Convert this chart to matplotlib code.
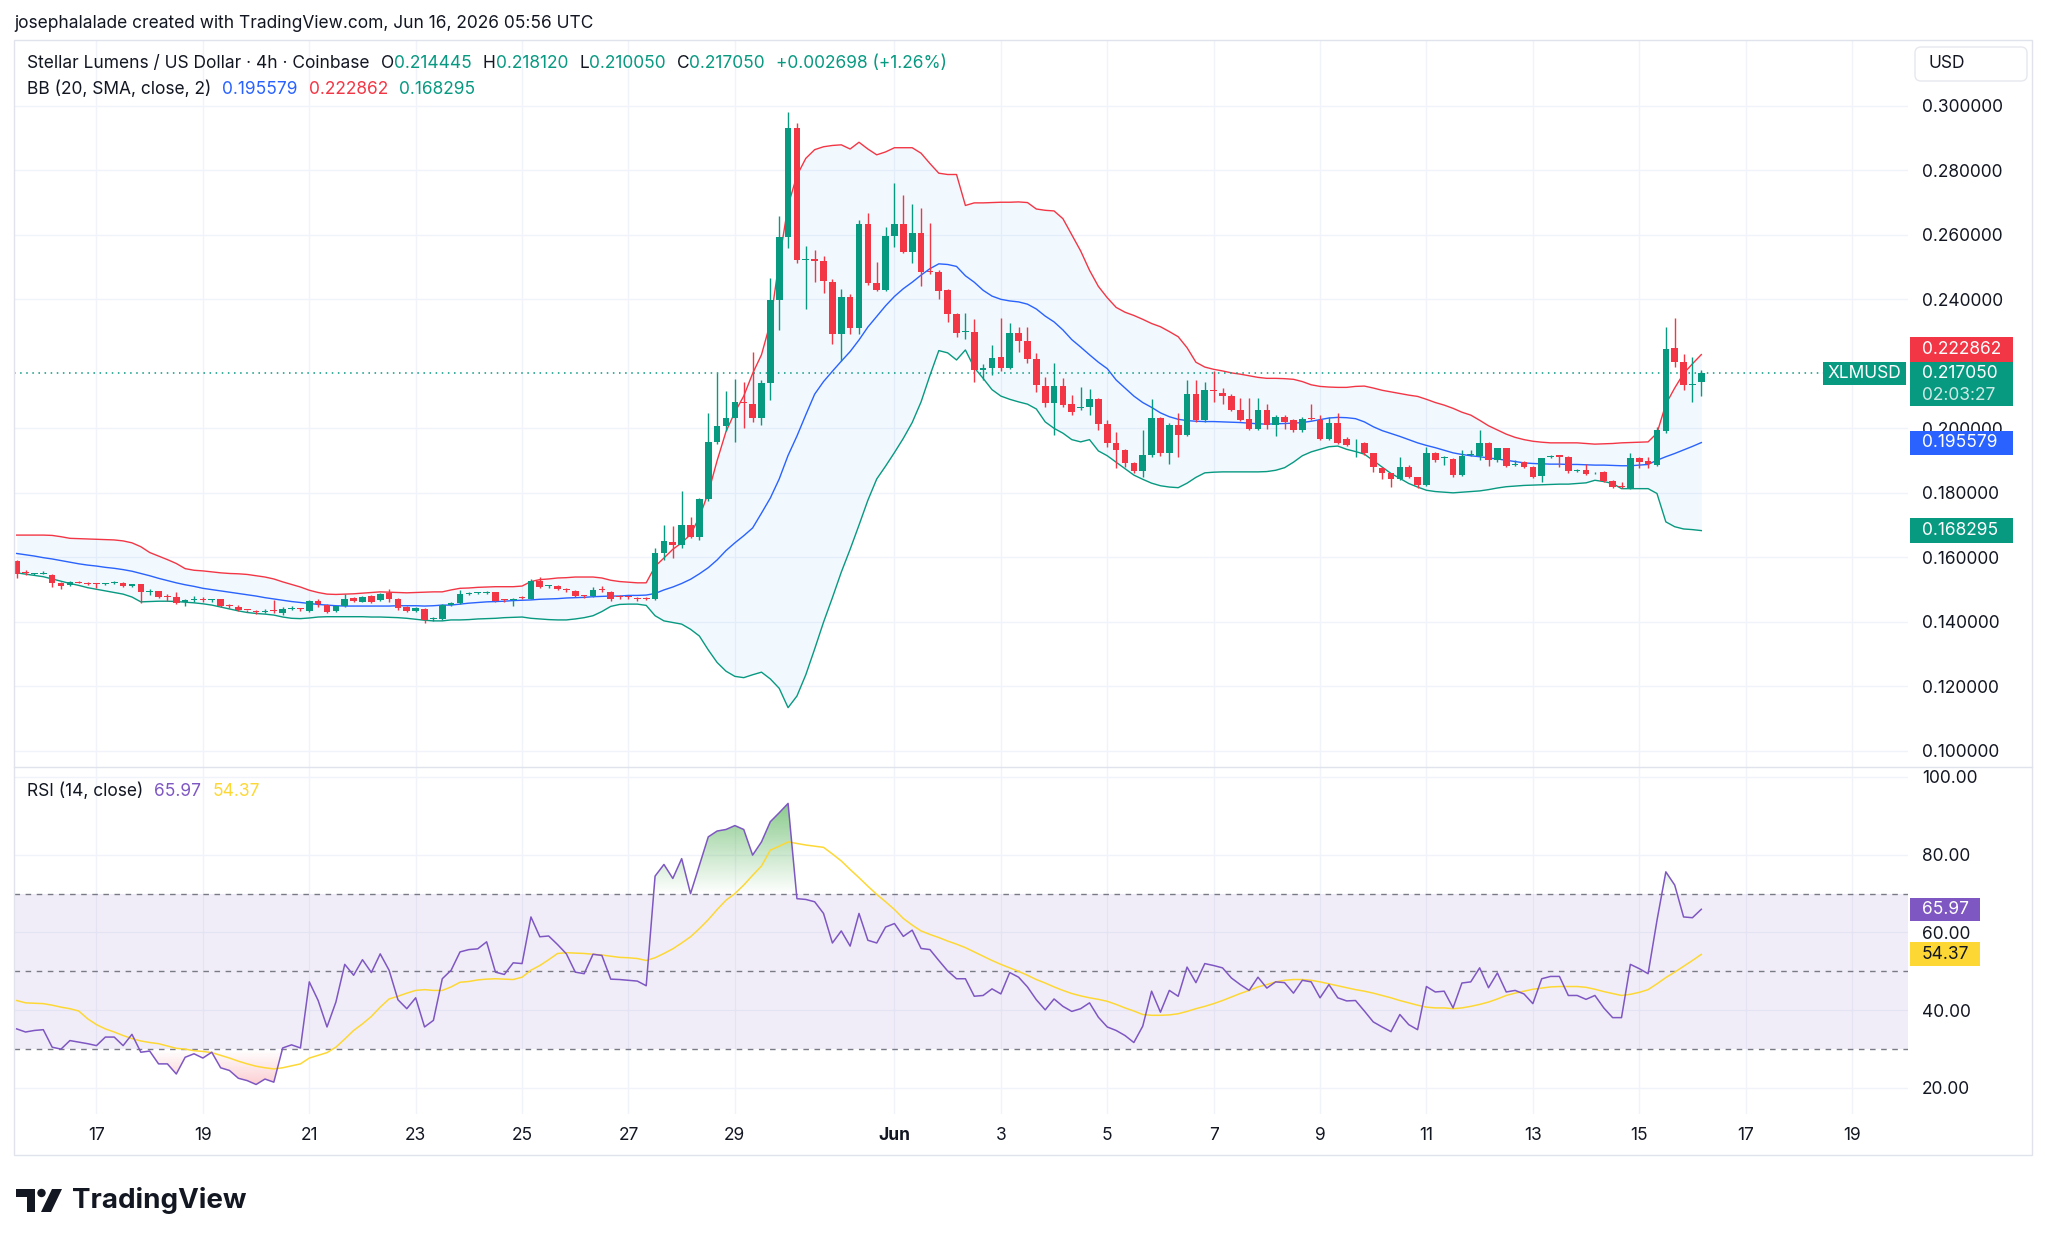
import numpy as np
import pandas as pd
import matplotlib
matplotlib.use("Agg")
import matplotlib.pyplot as plt
import matplotlib.dates as mdates
import matplotlib.colors as mcolors
from matplotlib.patches import Rectangle, FancyBboxPatch, Polygon, Circle, PathPatch
from matplotlib.path import Path
from matplotlib.transforms import blended_transform_factory, IdentityTransform
from matplotlib.lines import Line2D

plt.rcParams['font.family'] = ['Inter', 'DejaVu Sans']

# ---------------- data (4h candles, XLM/USD) ----------------
START = '2026-05-15 12:00'
OPEN = [.1589,.1553,.1547,.1549,.1545,.1522,.1514,.1524,.1520,.1518,
 .1516,.1519,.1521,.1510,.1516,.1493,.1495,.1478,.1476,.1462,
 .1469,.1471,.1469,.1470,.1450,.1446,.1438,.1433,.1431,.1434,
 .1426,.1440,.1442,.1434,.1464,.1452,.1434,.1448,.1474,.1463,
 .1479,.1467,.1488,.1471,.1446,.1434,.1441,.1409,.1408,.1452,
 .1458,.1487,.1489,.1490,.1492,.1468,.1467,.1476,.1472,.1528,
 .1510,.1512,.1501,.1495,.1480,.1479,.1500,.1492,.1477,.1477,
 .1473,.1473,.1470,.1614,.1649,.1638,.1700,.1664,.1780,.1959,
 .2006,.2033,.2080,.2075,.2033,.2141,.2397,.2592,.2932,.2522,
 .2526,.2519,.2453,.2291,.2406,.2310,.2634,.2450,.2429,.2595,
 .2632,.2548,.2605,.2487,.2486,.2429,.2353,.2300,.2300,.2181,
 .2186,.2222,.2186,.2296,.2270,.2214,.2132,.2080,.2132,.2077,
 .2062,.2067,.2090,.2013,.1955,.1932,.1894,.1868,.1917,.2031,
 .1922,.2010,.1979,.2108,.2025,.2117,.2110,.2100,.2056,.2030,
 .1999,.2056,.2010,.2034,.2027,.1994,.2031,.2025,.1968,.2015,
 .1968,.1953,.1953,.1922,.1877,.1860,.1842,.1881,.1848,.1824,
 .1922,.1908,.1905,.1855,.1917,.1914,.1955,.1901,.1938,.1886,
 .1896,.1879,.1852,.1912,.1916,.1912,.1868,.1870,.1860,.1865,
 .1836,.1819,.1814,.1907,.1898,.1886,.1992,.2248,.2206,.2134,
 .214445]
HIGH = [.1593,.1560,.1552,.1557,.1548,.1524,.1527,.1527,.1523,.1521,
 .1522,.1527,.1523,.1518,.1518,.1503,.1497,.1486,.1493,.1472,
 .1479,.1476,.1471,.1472,.1456,.1452,.1438,.1436,.1440,.1469,
 .1446,.1448,.1442,.1468,.1471,.1454,.1450,.1486,.1478,.1480,
 .1482,.1490,.1503,.1473,.1448,.1447,.1443,.1416,.1455,.1462,
 .1500,.1492,.1493,.1496,.1494,.1472,.1474,.1480,.1532,.1539,
 .1513,.1515,.1505,.1498,.1484,.1508,.1510,.1495,.1482,.1480,
 .1476,.1476,.1629,.1700,.1698,.1806,.1724,.1785,.2049,.2171,
 .2115,.2152,.2144,.2237,.2150,.2466,.2658,.2980,.2946,.2565,
 .2552,.2535,.2463,.2433,.2415,.2645,.2667,.2516,.2625,.2762,
 .2724,.2695,.2682,.2638,.2490,.2432,.2358,.2357,.2338,.2200,
 .2258,.2341,.2327,.2315,.2315,.2235,.2160,.2204,.2155,.2103,
 .2129,.2121,.2095,.2025,.1989,.1935,.1897,.1994,.2090,.2035,
 .2015,.2046,.2149,.2149,.2144,.2178,.2124,.2105,.2093,.2093,
 .2093,.2077,.2040,.2041,.2030,.2035,.2077,.2041,.2035,.2046,
 .1972,.1967,.1958,.1925,.1880,.1863,.1912,.1885,.1850,.1943,
 .1926,.1915,.1908,.1932,.1932,.1994,.1957,.1940,.1940,.1901,
 .1898,.1882,.1908,.1918,.1917,.1915,.1875,.1889,.1866,.1868,
 .1840,.1834,.1922,.1910,.1911,.2005,.2315,.2341,.2232,.2220,
 .218120]
LOW = [.1537,.1545,.1544,.1547,.1509,.1503,.1512,.1519,.1514,.1506,
 .1513,.1517,.1508,.1508,.1459,.1483,.1475,.1465,.1455,.1449,
 .1461,.1463,.1462,.1447,.1443,.1434,.1430,.1425,.1427,.1427,
 .1420,.1436,.1433,.1430,.1446,.1428,.1432,.1446,.1463,.1461,
 .1460,.1465,.1462,.1438,.1432,.1432,.1397,.1404,.1405,.1448,
 .1455,.1484,.1485,.1487,.1463,.1463,.1450,.1470,.1470,.1506,
 .1504,.1500,.1494,.1476,.1474,.1476,.1494,.1465,.1472,.1472,
 .1466,.1468,.1468,.1592,.1598,.1630,.1660,.1655,.1775,.1950,
 .1993,.1959,.2002,.2020,.2009,.2088,.2304,.2560,.2512,.2369,
 .2453,.2420,.2261,.2210,.2294,.2291,.2445,.2425,.2425,.2561,
 .2545,.2512,.2440,.2479,.2402,.2330,.2283,.2277,.2144,.2150,
 .2165,.2177,.2183,.2237,.2202,.2113,.2067,.1979,.2065,.2041,
 .2056,.2041,.1994,.1943,.1876,.1881,.1860,.1850,.1912,.1915,
 .1889,.1912,.1975,.2020,.2020,.2082,.2077,.2055,.2024,.1995,
 .1994,.1999,.1976,.1999,.1990,.1990,.2025,.1963,.1965,.1950,
 .1945,.1912,.1918,.1865,.1842,.1819,.1840,.1845,.1814,.1822,
 .1895,.1886,.1848,.1852,.1915,.1901,.1883,.1896,.1881,.1883,
 .1878,.1847,.1834,.1908,.1880,.1862,.1866,.1855,.1858,.1834,
 .1814,.1814,.1812,.1876,.1876,.1884,.1984,.2189,.2119,.2082,
 .210050]
CLOSE = [.1548,.1551,.1549,.1551,.1519,.1512,.1524,.1522,.1518,.1516,
 .1519,.1523,.1510,.1516,.1493,.1496,.1477,.1476,.1459,.1469,
 .1471,.1469,.1470,.1450,.1449,.1436,.1437,.1431,.1434,.1433,
 .1440,.1442,.1440,.1465,.1454,.1431,.1448,.1472,.1466,.1477,
 .1462,.1486,.1471,.1444,.1434,.1444,.1407,.1410,.1452,.1458,
 .1487,.1489,.1490,.1492,.1466,.1467,.1470,.1474,.1528,.1509,
 .1512,.1503,.1499,.1479,.1479,.1499,.1498,.1472,.1476,.1476,
 .1472,.1471,.1614,.1651,.1638,.1700,.1664,.1780,.1959,.2006,
 .2033,.2082,.2078,.2033,.2141,.2397,.2592,.2932,.2522,.2526,
 .2520,.2457,.2291,.2406,.2310,.2634,.2450,.2429,.2595,.2632,
 .2548,.2605,.2486,.2485,.2426,.2353,.2296,.2303,.2181,.2186,
 .2219,.2186,.2296,.2271,.2214,.2134,.2080,.2132,.2072,.2051,
 .2065,.2090,.2013,.1953,.1932,.1894,.1868,.1917,.2031,.1922,
 .2010,.1979,.2108,.2025,.2118,.2115,.2100,.2058,.2027,.1999,
 .2058,.2010,.2034,.2020,.1994,.2030,.2029,.1968,.2015,.1955,
 .1948,.1956,.1922,.1881,.1860,.1842,.1881,.1848,.1824,.1922,
 .1901,.1911,.1855,.1915,.1920,.1953,.1901,.1938,.1883,.1888,
 .1881,.1850,.1907,.1915,.1912,.1868,.1871,.1857,.1863,.1836,
 .1819,.1817,.1907,.1896,.1888,.1994,.2246,.2206,.2134,.2137,
 .217050]
BB_UPPER = [.1669,.1669,.1669,.1669,.1668,.1664,.1659,.1658,.1657,.1656,
 .1655,.1654,.1651,.1645,.1633,.1615,.1604,.1593,.1581,.1565,
 .1560,.1558,.1555,.1552,.1550,.1549,.1547,.1543,.1539,.1533,
 .1524,.1516,.1508,.1498,.1491,.1486,.1485,.1486,.1487,.1489,
 .1491,.1493,.1492,.1491,.1490,.1491,.1492,.1493,.1493,.1499,
 .1504,.1505,.1507,.1508,.1509,.1509,.1509,.1511,.1525,.1531,
 .1533,.1536,.1537,.1539,.1539,.1539,.1536,.1529,.1525,.1523,
 .1521,.1521,.1572,.1598,.1625,.1645,.1671,.1725,.1800,.1900,
 .1990,.2050,.2100,.2170,.2228,.2327,.2519,.2691,.2784,.2837,
 .2864,.2873,.2877,.2879,.2866,.2887,.2866,.2848,.2857,.2870,
 .2870,.2870,.2853,.2821,.2791,.2787,.2787,.2691,.2699,.2699,
 .2700,.2701,.2701,.2702,.2700,.2680,.2676,.2674,.2650,.2600,
 .2550,.2490,.2440,.2405,.2375,.2360,.2350,.2338,.2325,.2315,
 .2300,.2284,.2250,.2205,.2190,.2183,.2178,.2172,.2168,.2163,
 .2158,.2155,.2155,.2154,.2152,.2145,.2135,.2130,.2128,.2127,
 .2127,.2130,.2131,.2125,.2118,.2113,.2108,.2103,.2099,.2090,
 .2080,.2072,.2062,.2050,.2041,.2025,.2008,.1995,.1982,.1972,
 .1965,.1960,.1957,.1955,.1955,.1955,.1955,.1953,.1951,.1952,
 .1953,.1955,.1956,.1957,.1958,.1985,.2075,.2125,.2170,.2200,
 .222862]
BB_BASIS = [.1612,.1608,.1604,.1599,.1595,.1590,.1585,.1580,.1576,.1573,
 .1569,.1566,.1562,.1557,.1550,.1543,.1535,.1528,.1521,.1515,
 .1510,.1504,.1500,.1496,.1492,.1488,.1484,.1480,.1475,.1471,
 .1467,.1463,.1460,.1457,.1454,.1452,.1450,.1449,.1449,.1449,
 .1449,.1449,.1449,.1450,.1450,.1450,.1449,.1450,.1452,.1452,
 .1455,.1458,.1460,.1462,.1463,.1464,.1466,.1467,.1468,.1470,
 .1471,.1472,.1474,.1475,.1476,.1478,.1479,.1480,.1480,.1482,
 .1482,.1483,.1488,.1499,.1508,.1519,.1532,.1549,.1568,.1592,
 .1621,.1645,.1667,.1691,.1737,.1784,.1843,.1916,.1976,.2042,
 .2106,.2145,.2177,.2208,.2238,.2274,.2314,.2347,.2380,.2409,
 .2433,.2453,.2475,.2495,.2510,.2508,.2502,.2473,.2453,.2428,
 .2410,.2400,.2395,.2392,.2385,.2370,.2348,.2330,.2305,.2275,
 .2252,.2228,.2205,.2185,.2150,.2125,.2100,.2080,.2065,.2048,
 .2036,.2028,.2024,.2022,.2021,.2021,.2020,.2019,.2018,.2016,
 .2014,.2013,.2014,.2015,.2016,.2018,.2022,.2027,.2032,.2034,
 .2033,.2030,.2020,.2005,.1993,.1984,.1975,.1965,.1955,.1947,
 .1940,.1932,.1924,.1919,.1915,.1912,.1908,.1905,.1901,.1897,
 .1893,.1891,.1890,.1889,.1889,.1888,.1888,.1887,.1886,.1886,
 .1885,.1884,.1884,.1886,.1888,.1901,.1912,.1922,.1933,.1944,
 .195579]
BB_LOWER = [.1552,.1548,.1544,.1540,.1533,.1526,.1519,.1513,.1506,.1501,
 .1496,.1491,.1486,.1477,.1462,.1463,.1464,.1464,.1463,.1461,
 .1459,.1456,.1452,.1446,.1440,.1434,.1429,.1426,.1424,.1421,
 .1415,.1411,.1410,.1412,.1415,.1416,.1416,.1416,.1416,.1416,
 .1415,.1415,.1414,.1413,.1411,.1408,.1405,.1403,.1403,.1406,
 .1406,.1407,.1409,.1410,.1411,.1413,.1414,.1415,.1411,.1409,
 .1407,.1406,.1406,.1409,.1413,.1419,.1432,.1448,.1454,.1455,
 .1455,.1451,.1419,.1403,.1398,.1393,.1377,.1356,.1313,.1274,
 .1247,.1231,.1227,.1236,.1244,.1223,.1194,.1134,.1170,.1236,
 .1316,.1399,.1475,.1554,.1625,.1700,.1777,.1843,.1883,.1925,
 .1969,.2018,.2082,.2164,.2241,.2234,.2212,.2243,.2188,.2155,
 .2120,.2100,.2090,.2082,.2075,.2060,.2020,.2000,.1985,.1965,
 .1958,.1965,.1930,.1915,.1895,.1875,.1855,.1842,.1830,.1822,
 .1818,.1816,.1830,.1848,.1862,.1864,.1865,.1865,.1865,.1865,
 .1865,.1866,.1870,.1878,.1895,.1915,.1927,.1935,.1943,.1945,
 .1935,.1928,.1920,.1900,.1880,.1860,.1845,.1829,.1818,.1808,
 .1804,.1802,.1800,.1802,.1804,.1806,.1810,.1815,.1819,.1821,
 .1823,.1824,.1825,.1826,.1827,.1827,.1829,.1831,.1839,.1835,
 .1829,.1813,.1813,.1813,.1813,.1798,.1710,.1695,.1688,.1686,
 .168295]
RSI = [35.2,34.4,34.8,35.0,30.5,30.0,32.2,31.8,31.4,30.9,
 33.1,33.1,30.9,33.8,29.2,29.5,26.2,26.2,23.6,27.9,
 28.8,27.7,29.2,25.2,24.5,22.5,21.9,20.9,22.3,21.5,
 30.3,31.1,30.3,47.3,42.5,35.7,42.1,51.8,49.0,53.0,
 49.7,54.5,50.3,42.7,40.4,43.2,35.7,37.4,48.1,50.3,
 55.0,55.6,55.8,57.6,49.8,49.2,52.2,52.0,64.0,58.9,
 59.1,56.9,54.5,49.8,49.4,54.4,54.1,48.0,47.9,47.7,
 47.5,46.3,74.5,77.5,73.9,79.0,70.0,77.3,84.6,86.1,
 86.5,87.5,86.5,79.9,83.3,88.5,90.8,93.2,68.7,68.5,
 67.9,64.9,57.3,60.4,56.5,64.9,58.0,57.3,61.4,62.3,
 59.0,60.6,55.9,55.6,52.8,50.1,48.1,48.1,43.6,43.8,
 45.5,44.2,49.7,48.5,46.0,42.7,40.1,42.9,41.0,39.7,
 40.4,41.9,38.2,35.7,34.8,33.5,31.7,35.9,44.9,39.5,
 45.1,43.6,51.1,47.1,52.0,51.5,50.9,48.3,46.6,45.1,
 48.5,45.7,47.3,47.1,44.4,47.7,47.3,43.2,46.6,43.2,
 42.4,42.5,39.8,37.0,35.7,34.5,38.9,36.3,35.0,46.1,
 44.7,44.9,40.6,47.0,47.3,50.9,45.8,49.6,44.7,45.1,
 44.2,41.7,48.1,48.7,48.7,43.8,43.8,42.8,43.8,40.6,
 38.1,38.1,51.8,50.7,49.4,63.1,75.6,72.2,64.0,63.8,
 65.97]
RSI_MA = [42.5,41.9,41.8,41.7,41.3,40.8,40.4,39.8,37.8,36.3,
 35.2,34.4,33.5,32.7,32.1,31.7,31.4,30.8,30.2,30.0,
 29.6,29.4,29.1,28.4,27.7,26.9,26.2,25.6,25.2,24.9,
 25.2,25.7,26.2,27.7,28.4,29.1,30.5,32.6,34.8,36.5,
 38.4,40.8,42.9,43.6,44.4,45.1,45.3,45.1,45.1,46.0,
 47.2,47.4,47.8,48.0,48.1,48.0,47.9,48.5,50.3,51.5,
 53.0,54.6,54.8,54.7,54.6,54.4,54.2,53.9,53.6,53.5,
 53.3,52.8,53.5,54.6,55.8,57.3,58.9,61.0,63.3,65.9,
 68.3,70.0,72.2,74.7,77.1,81.2,82.2,83.3,82.9,82.5,
 82.2,81.9,80.2,78.4,76.2,74.1,71.9,69.8,67.9,65.9,
 63.6,61.9,60.4,59.5,58.7,57.8,57.0,56.1,55.0,53.9,
 52.8,51.8,50.9,50.0,49.0,47.9,47.0,46.0,45.1,44.3,
 43.7,43.2,42.8,42.3,41.5,40.6,39.8,38.9,38.7,38.7,
 38.8,39.1,39.7,40.4,41.0,41.7,42.5,43.4,44.3,45.1,
 46.0,46.6,47.3,47.7,47.9,47.9,47.7,47.3,46.8,46.3,
 45.8,45.3,44.9,44.4,43.8,43.2,42.5,41.9,41.3,40.8,
 40.6,40.6,40.4,40.6,41.0,41.5,42.1,42.9,43.8,44.4,
 44.9,45.4,45.7,46.0,46.1,46.1,46.1,45.9,45.4,44.8,
 44.3,43.8,44.1,44.6,45.3,46.8,48.4,49.8,51.3,52.8,
 54.37]

CHANGE = 0.002698
CHANGE_PCT = 1.26
COUNTDOWN = '02:03:27'

PRICE_TICKS = [0.10, 0.12, 0.14, 0.16, 0.18, 0.20, 0.24, 0.26, 0.28, 0.30]
RSI_TICKS = [20, 40, 60, 80, 100]
DATE_TICKS = ['2026-05-17', '2026-05-19', '2026-05-21', '2026-05-23', '2026-05-25',
              '2026-05-27', '2026-05-29', '2026-06-01', '2026-06-03', '2026-06-05',
              '2026-06-07', '2026-06-09', '2026-06-11', '2026-06-13', '2026-06-15',
              '2026-06-17', '2026-06-19']
DATE_LABELS = ['17', '19', '21', '23', '25', '27', '29', 'Jun', '3', '5', '7', '9',
               '11', '13', '15', '17', '19']

# ---------------- styling ----------------
GREEN = '#089981'
RED = '#F23645'
BLUE = '#2962FF'
PURPLE = '#7E57C2'
YELLOW = '#FDD835'
TXT = '#131722'
GRID = '#F0F3FA'
BORDER = '#E0E3EB'
FS = 12.5

W, H = 2048, 1244
fig = plt.figure(figsize=(W / 100, H / 100), dpi=100)
fig.patch.set_facecolor('white')
PL, PR = 14, 1908
T1, B1 = 40, 767
T2, B2 = 767, 1114
ax = fig.add_axes([PL / W, 1 - B1 / H, (PR - PL) / W, (B1 - T1) / H])
ax2 = fig.add_axes([PL / W, 1 - B2 / H, (PR - PL) / W, (B2 - T2) / H])

times = pd.date_range(START, periods=len(CLOSE), freq='4h')
x = mdates.date2num(times)
o = np.array(OPEN); h = np.array(HIGH); l = np.array(LOW); c = np.array(CLOSE)
up = c >= o
cols = np.where(up, GREEN, RED)

xlim = (mdates.date2num(pd.Timestamp('2026-05-15 10:47')),
        mdates.date2num(pd.Timestamp('2026-06-20 01:15')))
tick_x = mdates.date2num(pd.to_datetime(DATE_TICKS))

for a in (ax, ax2):
    for s in a.spines.values():
        s.set_visible(False)
    a.set_facecolor('white')
    a.set_axisbelow(True)
    a.set_xticks(tick_x)
    a.grid(True, color=GRID, lw=1.0)
    a.yaxis.tick_right()
    a.tick_params(axis='y', length=0, pad=10, labelsize=FS, labelcolor=TXT)
    a.tick_params(axis='x', length=0)

# ---------------- main pane ----------------
ax.fill_between(x, BB_LOWER, BB_UPPER, color='#2196F3', alpha=0.06, lw=0, zorder=1)
ax.plot(x, BB_UPPER, color=RED, lw=1.0, zorder=2)
ax.plot(x, BB_BASIS, color=BLUE, lw=1.0, zorder=2)
ax.plot(x, BB_LOWER, color=GREEN, lw=1.0, zorder=2)
ax.axhline(CLOSE[-1], xmin=0, xmax=(1823 - PL) / (PR - PL), color=GREEN,
           ls=(0, (1, 3)), lw=1.1, zorder=2.5)
ax.vlines(x, l, h, colors=cols, lw=1.0, zorder=3)
body_lo = np.minimum(o, c)
body_h = np.maximum(np.abs(c - o), 0.0003)
ax.bar(x, body_h, bottom=body_lo, width=0.125, color=cols, lw=0, zorder=3.1)

ax.set_xlim(*xlim)
ax.set_ylim(0.0950, 0.3204)
ax.set_yticks(PRICE_TICKS)
ax.set_yticklabels(['%.6f' % v for v in PRICE_TICKS])
ax.tick_params(axis='x', labelbottom=False)

# ---------------- RSI pane ----------------
r = np.array(RSI)
ax2.axhspan(30, 70, color=PURPLE, alpha=0.1, lw=0, zorder=0.6)
for lvl in (70, 50, 30):
    ax2.axhline(lvl, color='#787B86', ls=(0, (4, 4)), lw=1.0, zorder=1.5)


def gradient_fill(a, xx, yy, base, lo, hi, color, amax, above):
    if above:
        coll = a.fill_between(xx, base, yy, where=yy >= base, interpolate=True,
                              facecolor='none', edgecolor='none')
    else:
        coll = a.fill_between(xx, yy, base, where=yy <= base, interpolate=True,
                              facecolor='none', edgecolor='none')
    paths = coll.get_paths()
    if len(paths) == 0:
        return
    cp = Path.make_compound_path(*paths)
    patch = PathPatch(cp, transform=a.transData, facecolor='none', edgecolor='none')
    a.add_patch(patch)
    n = 256
    rgba = np.zeros((n, 1, 4))
    rgba[..., :3] = mcolors.to_rgb(color)
    frac = np.linspace(0, 1, n)
    alpha = frac * amax if above else (1 - frac) * amax
    rgba[:, 0, 3] = alpha
    im = a.imshow(rgba, extent=[xx.min(), xx.max(), lo, hi], origin='lower',
                  aspect='auto', zorder=1.2, interpolation='bilinear')
    im.set_clip_path(patch)


gradient_fill(ax2, x, r, 70, 70, 100, '#4CAF50', 0.85, True)
gradient_fill(ax2, x, r, 30, 0, 30, '#F23645', 0.8, False)
ax2.plot(x, RSI_MA, color=YELLOW, lw=1.1, zorder=2)
ax2.plot(x, RSI, color=PURPLE, lw=1.1, zorder=3)

ax2.set_xlim(*xlim)
ax2.set_ylim(13.31, 102.57)
ax2.set_yticks(RSI_TICKS)
ax2.set_yticklabels(['%.2f' % v for v in RSI_TICKS])
ax2.set_xticklabels(DATE_LABELS)
ax2.tick_params(axis='x', pad=9, labelsize=FS, labelcolor=TXT)
for lab in ax2.get_xticklabels():
    if lab.get_text() == 'Jun':
        lab.set_fontweight('bold')

# ---------------- frame ----------------
fig.add_artist(Rectangle((PL / W, 1 - 1155 / H), (2032 - PL) / W, (1155 - 40) / H,
                         transform=fig.transFigure, fill=False, ec=BORDER, lw=1.0))
fig.add_artist(Line2D([PL / W, 2032 / W], [1 - 767 / H] * 2, transform=fig.transFigure,
                      color=BORDER, lw=1.0))

# ---------------- axis value labels ----------------
def axis_box(a, yval, text, fc, tc, x0_px, x1_px, top_px, bot_px, text_dy_px=0,
             sub=None, ha='left', text_x_px=1922):
    y0, y1 = a.get_ylim()
    hpx = a.get_position().height * H
    s = (y1 - y0) / hpx
    wpx = a.get_position().width * W
    fx = lambda px: (px - PL) / wpx
    tr = blended_transform_factory(a.transAxes, a.transData)
    a.add_patch(Rectangle((fx(x0_px), yval - bot_px * s), fx(x1_px) - fx(x0_px),
                          (top_px + bot_px) * s, transform=tr, fc=fc, ec='none',
                          clip_on=False, zorder=10))
    tx = fx(text_x_px) if ha == 'left' else fx((x0_px + x1_px) / 2)
    a.text(tx, yval + text_dy_px * s, text, transform=tr, ha=ha, va='center',
           fontsize=FS, color=tc, clip_on=False, zorder=11)
    if sub is not None:
        a.text(tx, yval - 22 * s, sub, transform=tr, ha=ha, va='center',
               fontsize=FS, color=tc, alpha=0.8, clip_on=False, zorder=11)


axis_box(ax, BB_UPPER[-1], '%.6f' % BB_UPPER[-1], RED, 'white', 1910, 2013, 17.5, 7.5, text_dy_px=5)
axis_box(ax, CLOSE[-1], '%.6f' % CLOSE[-1], GREEN, 'white', 1910, 2013, 11, 33, sub=COUNTDOWN)
axis_box(ax, CLOSE[-1], 'XLMUSD', GREEN, 'white', 1823, 1906, 11.5, 11.5, ha='center')
axis_box(ax, BB_BASIS[-1], '%.6f' % BB_BASIS[-1], BLUE, 'white', 1910, 2013, 12, 12)
axis_box(ax, BB_LOWER[-1], '%.6f' % BB_LOWER[-1], GREEN, 'white', 1910, 2013, 12.5, 12.5)
axis_box(ax2, RSI[-1], '%.2f' % RSI[-1], PURPLE, 'white', 1910, 1980, 11, 12)
axis_box(ax2, RSI_MA[-1], '%.2f' % RSI_MA[-1], YELLOW, TXT, 1910, 1980, 12, 12)

# USD box
usd = FancyBboxPatch((1915, H - 81), 112, 34, boxstyle='round,pad=0,rounding_size=6',
                     transform=IdentityTransform(), fc='white', ec='#E6E8EE', lw=1.0)
fig.add_artist(usd)
fig.text(1929 / W, 1 - 64 / H, 'USD', fontsize=FS, color=TXT, va='center', ha='left')

# ---------------- legends / header ----------------
fig.text(14 / W, 1 - 23 / H, 'josephalalade created with TradingView.com, Jun 16, 2026 05:56 UTC',
         fontsize=FS, color=TXT, va='center', ha='left')


def chain_text(a, x_px, y_px, pieces):
    prev = None
    for s, col, gap in pieces:
        if prev is None:
            prev = a.annotate(s, xy=(x_px, H - y_px), xycoords='figure pixels', va='center',
                              ha='left', color=col, fontsize=FS, annotation_clip=False)
        else:
            prev = a.annotate(s, xy=(1, 0), xycoords=prev, xytext=(gap, 0),
                              textcoords='offset points', va='bottom', ha='left',
                              color=col, fontsize=FS, annotation_clip=False)


chain_text(ax, 27, 63, [
    ('Stellar Lumens / US Dollar \u00b7 4h \u00b7 Coinbase', TXT, 0),
    ('O', TXT, 8), ('%.6f' % OPEN[-1], GREEN, 0),
    ('H', TXT, 8), ('%.6f' % HIGH[-1], GREEN, 0),
    ('L', TXT, 8), ('%.6f' % LOW[-1], GREEN, 0),
    ('C', TXT, 8), ('%.6f' % CLOSE[-1], GREEN, 0),
    ('+%.6f (+%.2f%%)' % (CHANGE, CHANGE_PCT), GREEN, 8)])
chain_text(ax, 27, 89, [
    ('BB (20, SMA, close, 2)', TXT, 0),
    ('%.6f' % BB_BASIS[-1], BLUE, 8),
    ('%.6f' % BB_UPPER[-1], RED, 8),
    ('%.6f' % BB_LOWER[-1], GREEN, 8)])
chain_text(ax2, 27, 791, [
    ('RSI (14, close)', TXT, 0),
    ('%.2f' % RSI[-1], PURPLE, 8),
    ('%.2f' % RSI_MA[-1], YELLOW, 8)])

# ---------------- TradingView logo ----------------
def P(pts):
    return [(px, H - py) for px, py in pts]

logo_kw = dict(transform=IdentityTransform(), fc=TXT, ec='none')
fig.add_artist(Polygon(P([(16, 1189), (35, 1189), (35, 1212), (27, 1212), (27, 1197), (16, 1197)]), **logo_kw))
fig.add_artist(Circle((41.5, H - 1193), 4.2, **logo_kw))
fig.add_artist(Polygon(P([(52, 1189), (62, 1189), (51, 1212), (41, 1212)]), **logo_kw))
fig.text(72 / W, 1 - 1200 / H, 'TradingView', fontsize=20, fontweight='bold', color=TXT,
         va='center', ha='left')

fig.savefig('out.png', dpi=100, facecolor='white')
